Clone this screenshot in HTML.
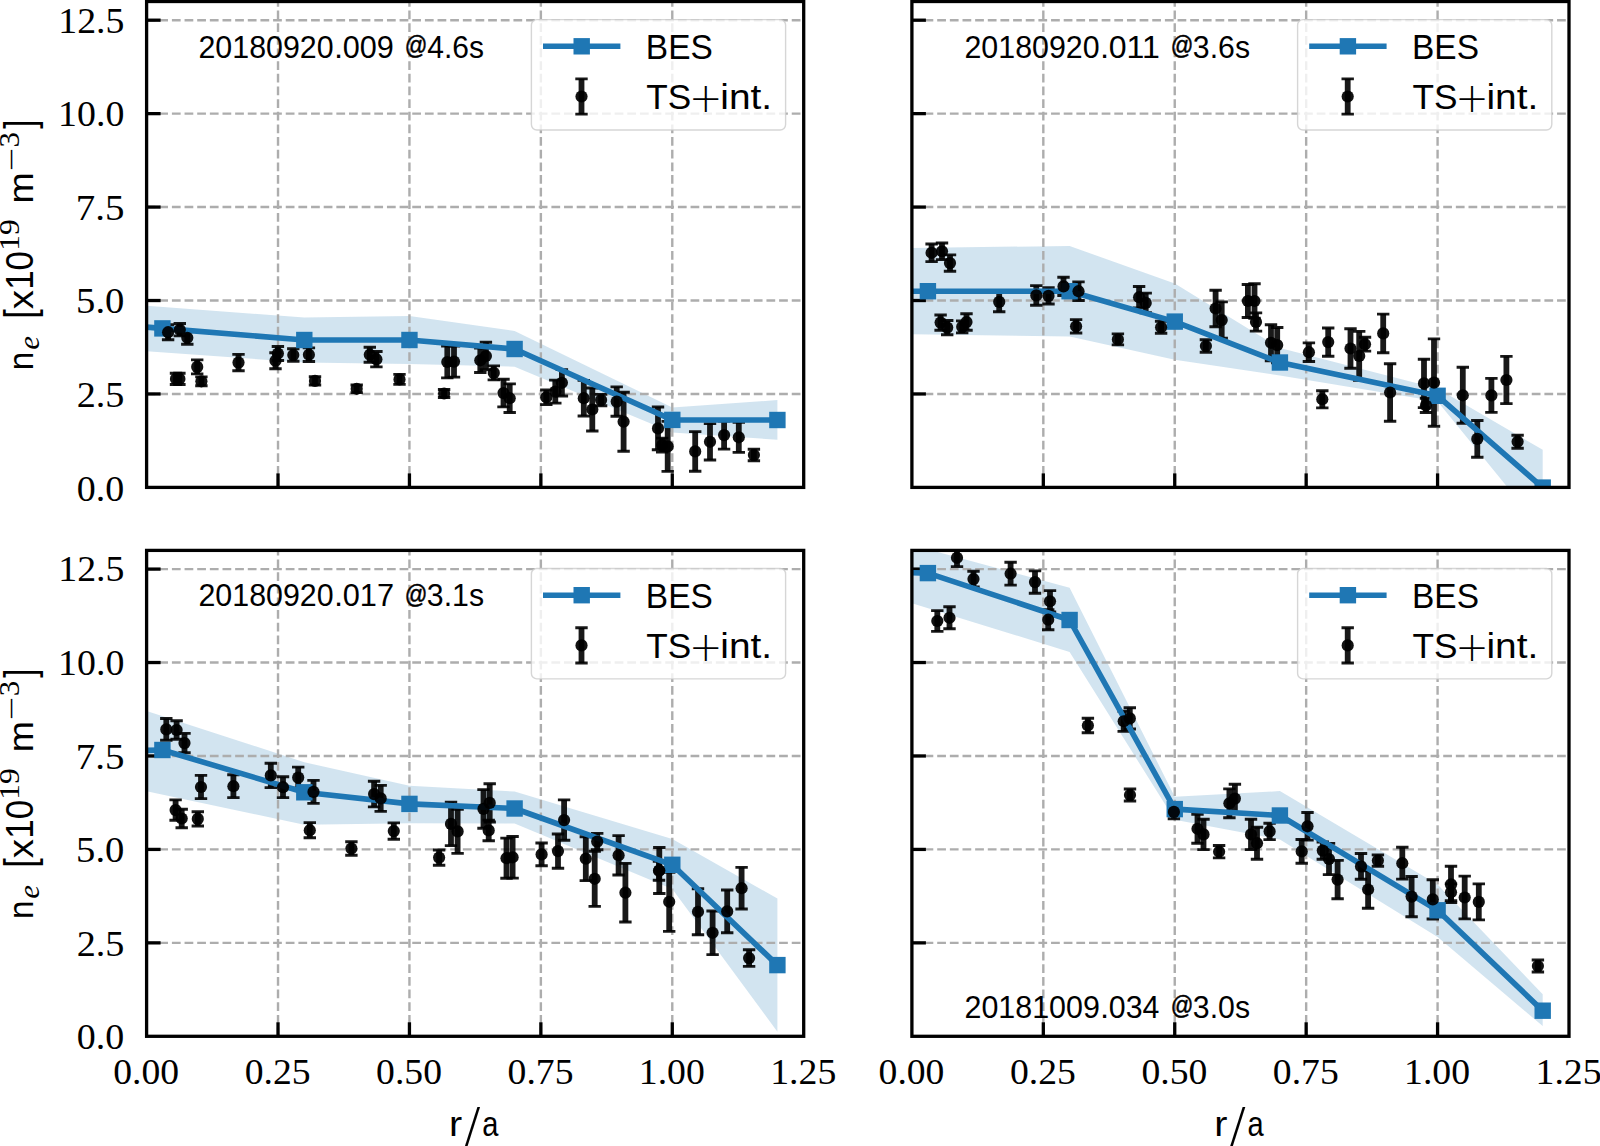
<!DOCTYPE html>
<html><head><meta charset="utf-8"><title>BES vs TS+int. density profiles</title>
<style>
html,body{margin:0;padding:0;background:#fff;overflow:hidden;}
svg{display:block;}
text{fill:#000;}
</style></head><body>
<svg width="1600" height="1146" viewBox="0 0 1600 1146">
<rect width="1600" height="1146" fill="#fff"/>

<g id="panel1">
<clipPath id="clip1"><rect x="146.6" y="1.5" width="657.1" height="485.9"/></clipPath>
<polygon clip-path="url(#clip1)" fill="#1f77b4" fill-opacity="0.2" points="146.6,305.7 304.3,317.5 409.45,316 514.6,331 672.3,407.5 777.4,400.1 777.4,439.7 672.3,432.4 514.6,366.7 409.45,363.9 304.3,362.5 146.6,351.3"/>
<g stroke="#adadad" stroke-width="2.4" stroke-dasharray="8.75 3.9" fill="none">
<path d="M278.02 487.4V1.5"/>
<path d="M409.44 487.4V1.5"/>
<path d="M540.86 487.4V1.5"/>
<path d="M672.28 487.4V1.5"/>
<path d="M146.6 393.96H803.7"/>
<path d="M146.6 300.52H803.7"/>
<path d="M146.6 207.07H803.7"/>
<path d="M146.6 113.63H803.7"/>
<path d="M146.6 20.19H803.7"/>
</g>
<g stroke="#000" stroke-width="3.3" fill="none">
<path d="M278.02 487.4v-14"/>
<path d="M409.44 487.4v-14"/>
<path d="M540.86 487.4v-14"/>
<path d="M672.28 487.4v-14"/>
<path d="M146.6 393.96h14"/>
<path d="M146.6 300.52h14"/>
<path d="M146.6 207.07h14"/>
<path d="M146.6 113.63h14"/>
<path d="M146.6 20.19h14"/>
</g>
<g clip-path="url(#clip1)">
<g stroke="#000" stroke-opacity="0.9" fill="none">
<path stroke-width="5.8" d="M168.1 324.7V339.7"/>
<path stroke-width="2.9" d="M161.9 324.7h12.4M161.9 339.7h12.4"/>
<path stroke-width="5.8" d="M179.8 323.5V335.9"/>
<path stroke-width="2.9" d="M173.6 323.5h12.4M173.6 335.9h12.4"/>
<path stroke-width="5.8" d="M187.3 331.4V344.2"/>
<path stroke-width="2.9" d="M181.1 331.4h12.4M181.1 344.2h12.4"/>
<path stroke-width="5.8" d="M176 373.3V384.5"/>
<path stroke-width="2.9" d="M169.8 373.3h12.4M169.8 384.5h12.4"/>
<path stroke-width="5.8" d="M179.4 373.3V384.5"/>
<path stroke-width="2.9" d="M173.2 373.3h12.4M173.2 384.5h12.4"/>
<path stroke-width="5.8" d="M197.2 359.9V373.9"/>
<path stroke-width="2.9" d="M191 359.9h12.4M191 373.9h12.4"/>
<path stroke-width="5.8" d="M201.4 376.9V385.7"/>
<path stroke-width="2.9" d="M195.2 376.9h12.4M195.2 385.7h12.4"/>
<path stroke-width="5.8" d="M238.5 354.4V370.8"/>
<path stroke-width="2.9" d="M232.3 354.4h12.4M232.3 370.8h12.4"/>
<path stroke-width="5.8" d="M277.9 346.5V360.5"/>
<path stroke-width="2.9" d="M271.7 346.5h12.4M271.7 360.5h12.4"/>
<path stroke-width="5.8" d="M275.5 352.7V368.7"/>
<path stroke-width="2.9" d="M269.3 352.7h12.4M269.3 368.7h12.4"/>
<path stroke-width="5.8" d="M293.3 348.7V361.3"/>
<path stroke-width="2.9" d="M287.1 348.7h12.4M287.1 361.3h12.4"/>
<path stroke-width="5.8" d="M308.9 347.9V361.5"/>
<path stroke-width="2.9" d="M302.7 347.9h12.4M302.7 361.5h12.4"/>
<path stroke-width="5.8" d="M315 376.8V385"/>
<path stroke-width="2.9" d="M308.8 376.8h12.4M308.8 385h12.4"/>
<path stroke-width="5.8" d="M356.7 385V392.6"/>
<path stroke-width="2.9" d="M350.5 385h12.4M350.5 392.6h12.4"/>
<path stroke-width="5.8" d="M369.8 347.2V362.2"/>
<path stroke-width="2.9" d="M363.6 347.2h12.4M363.6 362.2h12.4"/>
<path stroke-width="5.8" d="M376.4 351.5V366.9"/>
<path stroke-width="2.9" d="M370.2 351.5h12.4M370.2 366.9h12.4"/>
<path stroke-width="5.8" d="M399.5 374.4V384.4"/>
<path stroke-width="2.9" d="M393.3 374.4h12.4M393.3 384.4h12.4"/>
<path stroke-width="5.8" d="M444.1 389.5V397.5"/>
<path stroke-width="2.9" d="M437.9 389.5h12.4M437.9 397.5h12.4"/>
<path stroke-width="5.8" d="M447.3 346.1V377.9"/>
<path stroke-width="2.9" d="M441.1 346.1h12.4M441.1 377.9h12.4"/>
<path stroke-width="5.8" d="M454 346.1V377.1"/>
<path stroke-width="2.9" d="M447.8 346.1h12.4M447.8 377.1h12.4"/>
<path stroke-width="5.8" d="M480.3 348.1V372.5"/>
<path stroke-width="2.9" d="M474.1 348.1h12.4M474.1 372.5h12.4"/>
<path stroke-width="5.8" d="M485.9 342.3V369.7"/>
<path stroke-width="2.9" d="M479.7 342.3h12.4M479.7 369.7h12.4"/>
<path stroke-width="5.8" d="M493.8 365.9V379.9"/>
<path stroke-width="2.9" d="M487.6 365.9h12.4M487.6 379.9h12.4"/>
<path stroke-width="5.8" d="M503.5 379.3V406.9"/>
<path stroke-width="2.9" d="M497.3 379.3h12.4M497.3 406.9h12.4"/>
<path stroke-width="5.8" d="M509.7 383.9V412.5"/>
<path stroke-width="2.9" d="M503.5 383.9h12.4M503.5 412.5h12.4"/>
<path stroke-width="5.8" d="M546.3 390V404.6"/>
<path stroke-width="2.9" d="M540.1 390h12.4M540.1 404.6h12.4"/>
<path stroke-width="5.8" d="M555.3 380.1V403.1"/>
<path stroke-width="2.9" d="M549.1 380.1h12.4M549.1 403.1h12.4"/>
<path stroke-width="5.8" d="M561.9 369.6V396"/>
<path stroke-width="2.9" d="M555.7 369.6h12.4M555.7 396h12.4"/>
<path stroke-width="5.8" d="M583.8 380.4V416"/>
<path stroke-width="2.9" d="M577.6 380.4h12.4M577.6 416h12.4"/>
<path stroke-width="5.8" d="M592.3 388V431"/>
<path stroke-width="2.9" d="M586.1 388h12.4M586.1 431h12.4"/>
<path stroke-width="5.8" d="M601.1 394.4V405.8"/>
<path stroke-width="2.9" d="M594.9 394.4h12.4M594.9 405.8h12.4"/>
<path stroke-width="5.8" d="M616.7 386.9V416.3"/>
<path stroke-width="2.9" d="M610.5 386.9h12.4M610.5 416.3h12.4"/>
<path stroke-width="5.8" d="M623.6 392.2V451.2"/>
<path stroke-width="2.9" d="M617.4 392.2h12.4M617.4 451.2h12.4"/>
<path stroke-width="5.8" d="M658 407V449.8"/>
<path stroke-width="2.9" d="M651.8 407h12.4M651.8 449.8h12.4"/>
<path stroke-width="5.8" d="M662.2 438.1V452.1"/>
<path stroke-width="2.9" d="M656 438.1h12.4M656 452.1h12.4"/>
<path stroke-width="5.8" d="M667.7 421.4V471.4"/>
<path stroke-width="2.9" d="M661.5 421.4h12.4M661.5 471.4h12.4"/>
<path stroke-width="5.8" d="M695.2 431.6V471.2"/>
<path stroke-width="2.9" d="M689 431.6h12.4M689 471.2h12.4"/>
<path stroke-width="5.8" d="M710 423.6V460"/>
<path stroke-width="2.9" d="M703.8 423.6h12.4M703.8 460h12.4"/>
<path stroke-width="5.8" d="M724.1 421.1V449.1"/>
<path stroke-width="2.9" d="M717.9 421.1h12.4M717.9 449.1h12.4"/>
<path stroke-width="5.8" d="M738.8 422.2V452.4"/>
<path stroke-width="2.9" d="M732.6 422.2h12.4M732.6 452.4h12.4"/>
<path stroke-width="5.8" d="M753.9 449.2V460.8"/>
<path stroke-width="2.9" d="M747.7 449.2h12.4M747.7 460.8h12.4"/>
</g>
<polyline fill="none" stroke="#1f77b4" stroke-width="5.6" stroke-linejoin="round" points="146.6,327.1 162.4,328.4 304.3,340 409.45,340 514.6,349 672.3,419.9 777.4,420"/>
<rect x="154.2" y="320.2" width="16.4" height="16.4" fill="#1f77b4"/>
<rect x="296.1" y="331.8" width="16.4" height="16.4" fill="#1f77b4"/>
<rect x="401.25" y="331.8" width="16.4" height="16.4" fill="#1f77b4"/>
<rect x="506.4" y="340.8" width="16.4" height="16.4" fill="#1f77b4"/>
<rect x="664.1" y="411.7" width="16.4" height="16.4" fill="#1f77b4"/>
<rect x="769.2" y="411.8" width="16.4" height="16.4" fill="#1f77b4"/>
<circle cx="168.1" cy="332.2" r="6.1" fill="#000" fill-opacity="0.93"/>
<circle cx="179.8" cy="329.7" r="6.1" fill="#000" fill-opacity="0.93"/>
<circle cx="187.3" cy="337.8" r="6.1" fill="#000" fill-opacity="0.93"/>
<circle cx="176" cy="378.9" r="6.1" fill="#000" fill-opacity="0.93"/>
<circle cx="179.4" cy="378.9" r="6.1" fill="#000" fill-opacity="0.93"/>
<circle cx="197.2" cy="366.9" r="6.1" fill="#000" fill-opacity="0.93"/>
<circle cx="201.4" cy="381.3" r="6.1" fill="#000" fill-opacity="0.93"/>
<circle cx="238.5" cy="362.6" r="6.1" fill="#000" fill-opacity="0.93"/>
<circle cx="277.9" cy="353.5" r="6.1" fill="#000" fill-opacity="0.93"/>
<circle cx="275.5" cy="360.7" r="6.1" fill="#000" fill-opacity="0.93"/>
<circle cx="293.3" cy="355" r="6.1" fill="#000" fill-opacity="0.93"/>
<circle cx="308.9" cy="354.7" r="6.1" fill="#000" fill-opacity="0.93"/>
<circle cx="315" cy="380.9" r="6.1" fill="#000" fill-opacity="0.93"/>
<circle cx="356.7" cy="388.8" r="6.1" fill="#000" fill-opacity="0.93"/>
<circle cx="369.8" cy="354.7" r="6.1" fill="#000" fill-opacity="0.93"/>
<circle cx="376.4" cy="359.2" r="6.1" fill="#000" fill-opacity="0.93"/>
<circle cx="399.5" cy="379.4" r="6.1" fill="#000" fill-opacity="0.93"/>
<circle cx="444.1" cy="393.5" r="6.1" fill="#000" fill-opacity="0.93"/>
<circle cx="447.3" cy="362" r="6.1" fill="#000" fill-opacity="0.93"/>
<circle cx="454" cy="361.6" r="6.1" fill="#000" fill-opacity="0.93"/>
<circle cx="480.3" cy="360.3" r="6.1" fill="#000" fill-opacity="0.93"/>
<circle cx="485.9" cy="356" r="6.1" fill="#000" fill-opacity="0.93"/>
<circle cx="493.8" cy="372.9" r="6.1" fill="#000" fill-opacity="0.93"/>
<circle cx="503.5" cy="393.1" r="6.1" fill="#000" fill-opacity="0.93"/>
<circle cx="509.7" cy="398.2" r="6.1" fill="#000" fill-opacity="0.93"/>
<circle cx="546.3" cy="397.3" r="6.1" fill="#000" fill-opacity="0.93"/>
<circle cx="555.3" cy="391.6" r="6.1" fill="#000" fill-opacity="0.93"/>
<circle cx="561.9" cy="382.8" r="6.1" fill="#000" fill-opacity="0.93"/>
<circle cx="583.8" cy="398.2" r="6.1" fill="#000" fill-opacity="0.93"/>
<circle cx="592.3" cy="409.5" r="6.1" fill="#000" fill-opacity="0.93"/>
<circle cx="601.1" cy="400.1" r="6.1" fill="#000" fill-opacity="0.93"/>
<circle cx="616.7" cy="401.6" r="6.1" fill="#000" fill-opacity="0.93"/>
<circle cx="623.6" cy="421.7" r="6.1" fill="#000" fill-opacity="0.93"/>
<circle cx="658" cy="428.4" r="6.1" fill="#000" fill-opacity="0.93"/>
<circle cx="662.2" cy="445.1" r="6.1" fill="#000" fill-opacity="0.93"/>
<circle cx="667.7" cy="446.4" r="6.1" fill="#000" fill-opacity="0.93"/>
<circle cx="695.2" cy="451.4" r="6.1" fill="#000" fill-opacity="0.93"/>
<circle cx="710" cy="441.8" r="6.1" fill="#000" fill-opacity="0.93"/>
<circle cx="724.1" cy="435.1" r="6.1" fill="#000" fill-opacity="0.93"/>
<circle cx="738.8" cy="437.3" r="6.1" fill="#000" fill-opacity="0.93"/>
<circle cx="753.9" cy="455" r="6.1" fill="#000" fill-opacity="0.93"/>
</g>
<g stroke="#000" stroke-width="3.3" fill="none">
<rect x="146.6" y="1.5" width="657.1" height="485.9" stroke-linejoin="miter"/>
</g>
<text x="76.88" y="500.8" font-family='"Liberation Serif", serif' font-size="36.7" textLength="47.45" lengthAdjust="spacingAndGlyphs">0.0</text>
<text x="76.68" y="407.36" font-family='"Liberation Serif", serif' font-size="36.7" textLength="47.75" lengthAdjust="spacingAndGlyphs">2.5</text>
<text x="76.08" y="313.02" font-family='"Liberation Serif", serif' font-size="36.7" textLength="48.27" lengthAdjust="spacingAndGlyphs">5.0</text>
<text x="75.77" y="219.57" font-family='"Liberation Serif", serif' font-size="36.7" textLength="48.69" lengthAdjust="spacingAndGlyphs">7.5</text>
<text x="58.09" y="126.13" font-family='"Liberation Serif", serif' font-size="36.7" textLength="66.23" lengthAdjust="spacingAndGlyphs">10.0</text>
<text x="58.29" y="32.69" font-family='"Liberation Serif", serif' font-size="36.7" textLength="66.12" lengthAdjust="spacingAndGlyphs">12.5</text>
<g transform="translate(33.1 367.9) rotate(-90)">
<text x="-2.26" y="0" font-family='"Liberation Sans", sans-serif' font-size="35.4" textLength="18.54" lengthAdjust="spacingAndGlyphs">n</text>
<text x="18.07" y="6.3" font-family='"Liberation Serif", serif' font-size="30" font-style="italic" textLength="13.83" lengthAdjust="spacingAndGlyphs">e</text>
<text x="49.39" y="1.2" font-family='"Liberation Sans", sans-serif' font-size="43" textLength="9.16" lengthAdjust="spacingAndGlyphs">[</text>
<text x="58.62" y="0" font-family='"Liberation Sans", sans-serif' font-size="35.4" textLength="19.26" lengthAdjust="spacingAndGlyphs">x</text>
<text x="78.08" y="0" font-family='"Liberation Sans", sans-serif' font-size="39.7" textLength="38.84" lengthAdjust="spacingAndGlyphs">10</text>
<text x="117.14" y="-14.5" font-family='"Liberation Serif", serif' font-size="28.5" textLength="31.52" lengthAdjust="spacingAndGlyphs">19</text>
<text x="164.47" y="0" font-family='"Liberation Sans", sans-serif' font-size="35.4" textLength="31.16" lengthAdjust="spacingAndGlyphs">m</text>
<text x="196.34" y="-11.9" font-family='"Liberation Serif", serif' font-size="28.5" textLength="23.33" lengthAdjust="spacingAndGlyphs">−</text>
<text x="220.44" y="-14.5" font-family='"Liberation Serif", serif' font-size="28.5" textLength="15.39" lengthAdjust="spacingAndGlyphs">3</text>
<text x="239.16" y="1.2" font-family='"Liberation Sans", sans-serif' font-size="43" textLength="9.02" lengthAdjust="spacingAndGlyphs">]</text>
</g>
<text x="198.48" y="57.5" font-family='"Liberation Sans", sans-serif' font-size="31.25" textLength="135.16" lengthAdjust="spacingAndGlyphs">20180920</text>
<text x="334.05" y="57.5" font-family='"Liberation Sans", sans-serif' font-size="31.25" textLength="9.11" lengthAdjust="spacingAndGlyphs">.</text>
<text x="342.77" y="57.5" font-family='"Liberation Sans", sans-serif' font-size="31.25" textLength="51.11" lengthAdjust="spacingAndGlyphs">009</text>
<text x="404.77" y="53.9" font-family='"Liberation Sans", sans-serif' font-size="26.5" textLength="22.62" lengthAdjust="spacingAndGlyphs" stroke="#000" stroke-width="0.5">@</text>
<text x="427.32" y="57.5" font-family='"Liberation Sans", sans-serif' font-size="31.25" textLength="56.73" lengthAdjust="spacingAndGlyphs">4.6s</text>
<rect x="531.4" y="19.6" width="254.2" height="110.4" rx="5.5" ry="5.5" fill="#fff" fill-opacity="0.8" stroke="#ccc" stroke-opacity="0.8" stroke-width="1.4"/>
<path d="M543 46.3h77.4" stroke="#1f77b4" stroke-width="5.6" fill="none"/>
<rect x="573.5" y="38.1" width="16.4" height="16.4" fill="#1f77b4"/>
<g stroke="#000" stroke-opacity="0.9" fill="none"><path stroke-width="5.8" d="M581.5 78.9V114.1"/><path stroke-width="2.9" d="M575.3 78.9h12.4M575.3 114.1h12.4"/></g>
<circle cx="581.5" cy="96.5" r="6.1" fill="#000" fill-opacity="0.93"/>
<text x="645.84" y="58.65" font-family='"Liberation Sans", sans-serif' font-size="35.75" textLength="66.96" lengthAdjust="spacingAndGlyphs">BES</text>
<text x="646.31" y="108.9" font-family='"Liberation Sans", sans-serif' font-size="35.75" textLength="44.98" lengthAdjust="spacingAndGlyphs">TS</text>
<text x="689.1" y="112.3" font-family='"DejaVu Sans", sans-serif' font-size="40" font-weight="200" textLength="33.5" lengthAdjust="spacingAndGlyphs">+</text>
<text x="720.27" y="108.9" font-family='"Liberation Sans", sans-serif' font-size="35.75" textLength="51.83" lengthAdjust="spacingAndGlyphs">int.</text>
</g>
<g id="panel2">
<clipPath id="clip2"><rect x="911.9" y="1.5" width="657.1" height="485.9"/></clipPath>
<polygon clip-path="url(#clip2)" fill="#1f77b4" fill-opacity="0.2" points="911.9,247.9 1069.6,246 1174.75,283.5 1279.9,348 1437.6,388.6 1542.7,449.8 1542.7,530.5 1437.6,401.4 1279.9,375.5 1174.75,359.7 1069.6,336.6 911.9,334.2"/>
<g stroke="#adadad" stroke-width="2.4" stroke-dasharray="8.75 3.9" fill="none">
<path d="M1043.32 487.4V1.5"/>
<path d="M1174.74 487.4V1.5"/>
<path d="M1306.16 487.4V1.5"/>
<path d="M1437.58 487.4V1.5"/>
<path d="M911.9 393.96H1569"/>
<path d="M911.9 300.52H1569"/>
<path d="M911.9 207.07H1569"/>
<path d="M911.9 113.63H1569"/>
<path d="M911.9 20.19H1569"/>
</g>
<g stroke="#000" stroke-width="3.3" fill="none">
<path d="M1043.32 487.4v-14"/>
<path d="M1174.74 487.4v-14"/>
<path d="M1306.16 487.4v-14"/>
<path d="M1437.58 487.4v-14"/>
<path d="M911.9 393.96h14"/>
<path d="M911.9 300.52h14"/>
<path d="M911.9 207.07h14"/>
<path d="M911.9 113.63h14"/>
<path d="M911.9 20.19h14"/>
</g>
<g clip-path="url(#clip2)">
<g stroke="#000" stroke-opacity="0.9" fill="none">
<path stroke-width="5.8" d="M931.6 244V261.6"/>
<path stroke-width="2.9" d="M925.4 244h12.4M925.4 261.6h12.4"/>
<path stroke-width="5.8" d="M942 243V259.6"/>
<path stroke-width="2.9" d="M935.8 243h12.4M935.8 259.6h12.4"/>
<path stroke-width="5.8" d="M950 254.9V271.3"/>
<path stroke-width="2.9" d="M943.8 254.9h12.4M943.8 271.3h12.4"/>
<path stroke-width="5.8" d="M940.6 315V330.2"/>
<path stroke-width="2.9" d="M934.4 315h12.4M934.4 330.2h12.4"/>
<path stroke-width="5.8" d="M947.2 320.5V334.7"/>
<path stroke-width="2.9" d="M941 320.5h12.4M941 334.7h12.4"/>
<path stroke-width="5.8" d="M962.2 320.9V332.9"/>
<path stroke-width="2.9" d="M956 320.9h12.4M956 332.9h12.4"/>
<path stroke-width="5.8" d="M966.5 313.7V330.3"/>
<path stroke-width="2.9" d="M960.3 313.7h12.4M960.3 330.3h12.4"/>
<path stroke-width="5.8" d="M999.2 292.1V311.7"/>
<path stroke-width="2.9" d="M993 292.1h12.4M993 311.7h12.4"/>
<path stroke-width="5.8" d="M1036.3 285.6V305.2"/>
<path stroke-width="2.9" d="M1030.1 285.6h12.4M1030.1 305.2h12.4"/>
<path stroke-width="5.8" d="M1048.5 287.8V304"/>
<path stroke-width="2.9" d="M1042.3 287.8h12.4M1042.3 304h12.4"/>
<path stroke-width="5.8" d="M1063.5 277.3V295.5"/>
<path stroke-width="2.9" d="M1057.3 277.3h12.4M1057.3 295.5h12.4"/>
<path stroke-width="5.8" d="M1078.5 281.9V300.5"/>
<path stroke-width="2.9" d="M1072.3 281.9h12.4M1072.3 300.5h12.4"/>
<path stroke-width="5.8" d="M1076.1 319.6V333"/>
<path stroke-width="2.9" d="M1069.9 319.6h12.4M1069.9 333h12.4"/>
<path stroke-width="5.8" d="M1117.9 333.9V344.9"/>
<path stroke-width="2.9" d="M1111.7 333.9h12.4M1111.7 344.9h12.4"/>
<path stroke-width="5.8" d="M1139.1 286.5V307.9"/>
<path stroke-width="2.9" d="M1132.9 286.5h12.4M1132.9 307.9h12.4"/>
<path stroke-width="5.8" d="M1145.7 293.1V312.7"/>
<path stroke-width="2.9" d="M1139.5 293.1h12.4M1139.5 312.7h12.4"/>
<path stroke-width="5.8" d="M1161.1 321.3V333.3"/>
<path stroke-width="2.9" d="M1154.9 321.3h12.4M1154.9 333.3h12.4"/>
<path stroke-width="5.8" d="M1205.9 339.8V352.2"/>
<path stroke-width="2.9" d="M1199.7 339.8h12.4M1199.7 352.2h12.4"/>
<path stroke-width="5.8" d="M1215.6 290.3V326.7"/>
<path stroke-width="2.9" d="M1209.4 290.3h12.4M1209.4 326.7h12.4"/>
<path stroke-width="5.8" d="M1221.7 301.9V338.3"/>
<path stroke-width="2.9" d="M1215.5 301.9h12.4M1215.5 338.3h12.4"/>
<path stroke-width="5.8" d="M1247.9 284.5V317.5"/>
<path stroke-width="2.9" d="M1241.7 284.5h12.4M1241.7 317.5h12.4"/>
<path stroke-width="5.8" d="M1254.5 283.7V318.3"/>
<path stroke-width="2.9" d="M1248.3 283.7h12.4M1248.3 318.3h12.4"/>
<path stroke-width="5.8" d="M1256 312.9V331.1"/>
<path stroke-width="2.9" d="M1249.8 312.9h12.4M1249.8 331.1h12.4"/>
<path stroke-width="5.8" d="M1271 324.8V360.8"/>
<path stroke-width="2.9" d="M1264.8 324.8h12.4M1264.8 360.8h12.4"/>
<path stroke-width="5.8" d="M1277.2 327.5V362.7"/>
<path stroke-width="2.9" d="M1271 327.5h12.4M1271 362.7h12.4"/>
<path stroke-width="5.8" d="M1308.9 342.9V361.5"/>
<path stroke-width="2.9" d="M1302.7 342.9h12.4M1302.7 361.5h12.4"/>
<path stroke-width="5.8" d="M1328.2 328V356.2"/>
<path stroke-width="2.9" d="M1322 328h12.4M1322 356.2h12.4"/>
<path stroke-width="5.8" d="M1322.3 390.7V407.9"/>
<path stroke-width="2.9" d="M1316.1 390.7h12.4M1316.1 407.9h12.4"/>
<path stroke-width="5.8" d="M1350.5 328.7V368.3"/>
<path stroke-width="2.9" d="M1344.3 328.7h12.4M1344.3 368.3h12.4"/>
<path stroke-width="5.8" d="M1359.2 331.4V380.4"/>
<path stroke-width="2.9" d="M1353 331.4h12.4M1353 380.4h12.4"/>
<path stroke-width="5.8" d="M1365 337.3V351.1"/>
<path stroke-width="2.9" d="M1358.8 337.3h12.4M1358.8 351.1h12.4"/>
<path stroke-width="5.8" d="M1383.2 314.1V352.7"/>
<path stroke-width="2.9" d="M1377 314.1h12.4M1377 352.7h12.4"/>
<path stroke-width="5.8" d="M1390.1 363.7V421.3"/>
<path stroke-width="2.9" d="M1383.9 363.7h12.4M1383.9 421.3h12.4"/>
<path stroke-width="5.8" d="M1424 359.2V407.6"/>
<path stroke-width="2.9" d="M1417.8 359.2h12.4M1417.8 407.6h12.4"/>
<path stroke-width="5.8" d="M1426 398.3V412.5"/>
<path stroke-width="2.9" d="M1419.8 398.3h12.4M1419.8 412.5h12.4"/>
<path stroke-width="5.8" d="M1434 338.9V426.3"/>
<path stroke-width="2.9" d="M1427.8 338.9h12.4M1427.8 426.3h12.4"/>
<path stroke-width="5.8" d="M1462.8 367.3V423.3"/>
<path stroke-width="2.9" d="M1456.6 367.3h12.4M1456.6 423.3h12.4"/>
<path stroke-width="5.8" d="M1477.3 420.5V457.3"/>
<path stroke-width="2.9" d="M1471.1 420.5h12.4M1471.1 457.3h12.4"/>
<path stroke-width="5.8" d="M1491.4 378.4V412.4"/>
<path stroke-width="2.9" d="M1485.2 378.4h12.4M1485.2 412.4h12.4"/>
<path stroke-width="5.8" d="M1506.4 356.4V403.6"/>
<path stroke-width="2.9" d="M1500.2 356.4h12.4M1500.2 403.6h12.4"/>
<path stroke-width="5.8" d="M1517.6 435.2V448.2"/>
<path stroke-width="2.9" d="M1511.4 435.2h12.4M1511.4 448.2h12.4"/>
</g>
<polyline fill="none" stroke="#1f77b4" stroke-width="5.6" stroke-linejoin="round" points="911.9,291.2 927.9,291.2 1069.6,291.2 1174.75,321.6 1279.9,362.5 1437.6,395.8 1542.7,487.6"/>
<rect x="919.7" y="283" width="16.4" height="16.4" fill="#1f77b4"/>
<rect x="1061.4" y="283" width="16.4" height="16.4" fill="#1f77b4"/>
<rect x="1166.55" y="313.4" width="16.4" height="16.4" fill="#1f77b4"/>
<rect x="1271.7" y="354.3" width="16.4" height="16.4" fill="#1f77b4"/>
<rect x="1429.4" y="387.6" width="16.4" height="16.4" fill="#1f77b4"/>
<rect x="1534.5" y="479.4" width="16.4" height="16.4" fill="#1f77b4"/>
<circle cx="931.6" cy="252.8" r="6.1" fill="#000" fill-opacity="0.93"/>
<circle cx="942" cy="251.3" r="6.1" fill="#000" fill-opacity="0.93"/>
<circle cx="950" cy="263.1" r="6.1" fill="#000" fill-opacity="0.93"/>
<circle cx="940.6" cy="322.6" r="6.1" fill="#000" fill-opacity="0.93"/>
<circle cx="947.2" cy="327.6" r="6.1" fill="#000" fill-opacity="0.93"/>
<circle cx="962.2" cy="326.9" r="6.1" fill="#000" fill-opacity="0.93"/>
<circle cx="966.5" cy="322" r="6.1" fill="#000" fill-opacity="0.93"/>
<circle cx="999.2" cy="301.9" r="6.1" fill="#000" fill-opacity="0.93"/>
<circle cx="1036.3" cy="295.4" r="6.1" fill="#000" fill-opacity="0.93"/>
<circle cx="1048.5" cy="295.9" r="6.1" fill="#000" fill-opacity="0.93"/>
<circle cx="1063.5" cy="286.4" r="6.1" fill="#000" fill-opacity="0.93"/>
<circle cx="1078.5" cy="291.2" r="6.1" fill="#000" fill-opacity="0.93"/>
<circle cx="1076.1" cy="326.3" r="6.1" fill="#000" fill-opacity="0.93"/>
<circle cx="1117.9" cy="339.4" r="6.1" fill="#000" fill-opacity="0.93"/>
<circle cx="1139.1" cy="297.2" r="6.1" fill="#000" fill-opacity="0.93"/>
<circle cx="1145.7" cy="302.9" r="6.1" fill="#000" fill-opacity="0.93"/>
<circle cx="1161.1" cy="327.3" r="6.1" fill="#000" fill-opacity="0.93"/>
<circle cx="1205.9" cy="346" r="6.1" fill="#000" fill-opacity="0.93"/>
<circle cx="1215.6" cy="308.5" r="6.1" fill="#000" fill-opacity="0.93"/>
<circle cx="1221.7" cy="320.1" r="6.1" fill="#000" fill-opacity="0.93"/>
<circle cx="1247.9" cy="301" r="6.1" fill="#000" fill-opacity="0.93"/>
<circle cx="1254.5" cy="301" r="6.1" fill="#000" fill-opacity="0.93"/>
<circle cx="1256" cy="322" r="6.1" fill="#000" fill-opacity="0.93"/>
<circle cx="1271" cy="342.8" r="6.1" fill="#000" fill-opacity="0.93"/>
<circle cx="1277.2" cy="345.1" r="6.1" fill="#000" fill-opacity="0.93"/>
<circle cx="1308.9" cy="352.2" r="6.1" fill="#000" fill-opacity="0.93"/>
<circle cx="1328.2" cy="342.1" r="6.1" fill="#000" fill-opacity="0.93"/>
<circle cx="1322.3" cy="399.3" r="6.1" fill="#000" fill-opacity="0.93"/>
<circle cx="1350.5" cy="348.5" r="6.1" fill="#000" fill-opacity="0.93"/>
<circle cx="1359.2" cy="355.9" r="6.1" fill="#000" fill-opacity="0.93"/>
<circle cx="1365" cy="344.2" r="6.1" fill="#000" fill-opacity="0.93"/>
<circle cx="1383.2" cy="333.4" r="6.1" fill="#000" fill-opacity="0.93"/>
<circle cx="1390.1" cy="392.5" r="6.1" fill="#000" fill-opacity="0.93"/>
<circle cx="1424" cy="383.4" r="6.1" fill="#000" fill-opacity="0.93"/>
<circle cx="1426" cy="405.4" r="6.1" fill="#000" fill-opacity="0.93"/>
<circle cx="1434" cy="382.6" r="6.1" fill="#000" fill-opacity="0.93"/>
<circle cx="1462.8" cy="395.3" r="6.1" fill="#000" fill-opacity="0.93"/>
<circle cx="1477.3" cy="438.9" r="6.1" fill="#000" fill-opacity="0.93"/>
<circle cx="1491.4" cy="395.4" r="6.1" fill="#000" fill-opacity="0.93"/>
<circle cx="1506.4" cy="380" r="6.1" fill="#000" fill-opacity="0.93"/>
<circle cx="1517.6" cy="441.7" r="6.1" fill="#000" fill-opacity="0.93"/>
</g>
<g stroke="#000" stroke-width="3.3" fill="none">
<rect x="911.9" y="1.5" width="657.1" height="485.9" stroke-linejoin="miter"/>
</g>
<text x="964.48" y="57.5" font-family='"Liberation Sans", sans-serif' font-size="31.25" textLength="135.16" lengthAdjust="spacingAndGlyphs">20180920</text>
<text x="1100.05" y="57.5" font-family='"Liberation Sans", sans-serif' font-size="31.25" textLength="9.11" lengthAdjust="spacingAndGlyphs">.</text>
<text x="1108.77" y="57.5" font-family='"Liberation Sans", sans-serif' font-size="31.25" textLength="51.15" lengthAdjust="spacingAndGlyphs">011</text>
<text x="1170.77" y="53.9" font-family='"Liberation Sans", sans-serif' font-size="26.5" textLength="22.62" lengthAdjust="spacingAndGlyphs" stroke="#000" stroke-width="0.5">@</text>
<text x="1192.86" y="57.5" font-family='"Liberation Sans", sans-serif' font-size="31.25" textLength="57.2" lengthAdjust="spacingAndGlyphs">3.6s</text>
<rect x="1297.6" y="19.6" width="254.2" height="110.4" rx="5.5" ry="5.5" fill="#fff" fill-opacity="0.8" stroke="#ccc" stroke-opacity="0.8" stroke-width="1.4"/>
<path d="M1309.2 46.3h77.4" stroke="#1f77b4" stroke-width="5.6" fill="none"/>
<rect x="1339.7" y="38.1" width="16.4" height="16.4" fill="#1f77b4"/>
<g stroke="#000" stroke-opacity="0.9" fill="none"><path stroke-width="5.8" d="M1347.7 78.9V114.1"/><path stroke-width="2.9" d="M1341.5 78.9h12.4M1341.5 114.1h12.4"/></g>
<circle cx="1347.7" cy="96.5" r="6.1" fill="#000" fill-opacity="0.93"/>
<text x="1412.04" y="58.65" font-family='"Liberation Sans", sans-serif' font-size="35.75" textLength="66.96" lengthAdjust="spacingAndGlyphs">BES</text>
<text x="1412.51" y="108.9" font-family='"Liberation Sans", sans-serif' font-size="35.75" textLength="44.98" lengthAdjust="spacingAndGlyphs">TS</text>
<text x="1455.3" y="112.3" font-family='"DejaVu Sans", sans-serif' font-size="40" font-weight="200" textLength="33.5" lengthAdjust="spacingAndGlyphs">+</text>
<text x="1486.47" y="108.9" font-family='"Liberation Sans", sans-serif' font-size="35.75" textLength="51.83" lengthAdjust="spacingAndGlyphs">int.</text>
</g>
<g id="panel3">
<clipPath id="clip3"><rect x="146.6" y="550.4" width="657.1" height="485.9"/></clipPath>
<polygon clip-path="url(#clip3)" fill="#1f77b4" fill-opacity="0.2" points="146.6,711 304.3,762.2 409.45,785.7 514.6,791.6 672.3,839 777.4,898.5 777.4,1031.7 672.3,889 514.6,823.5 409.45,823.2 304.3,824.7 146.6,791.3"/>
<g stroke="#adadad" stroke-width="2.4" stroke-dasharray="8.75 3.9" fill="none">
<path d="M278.02 1036.3V550.4"/>
<path d="M409.44 1036.3V550.4"/>
<path d="M540.86 1036.3V550.4"/>
<path d="M672.28 1036.3V550.4"/>
<path d="M146.6 942.86H803.7"/>
<path d="M146.6 849.42H803.7"/>
<path d="M146.6 755.97H803.7"/>
<path d="M146.6 662.53H803.7"/>
<path d="M146.6 569.09H803.7"/>
</g>
<g stroke="#000" stroke-width="3.3" fill="none">
<path d="M278.02 1036.3v-14"/>
<path d="M409.44 1036.3v-14"/>
<path d="M540.86 1036.3v-14"/>
<path d="M672.28 1036.3v-14"/>
<path d="M146.6 942.86h14"/>
<path d="M146.6 849.42h14"/>
<path d="M146.6 755.97h14"/>
<path d="M146.6 662.53h14"/>
<path d="M146.6 569.09h14"/>
</g>
<g clip-path="url(#clip3)">
<g stroke="#000" stroke-opacity="0.9" fill="none">
<path stroke-width="5.8" d="M166.3 718.5V740.3"/>
<path stroke-width="2.9" d="M160.1 718.5h12.4M160.1 740.3h12.4"/>
<path stroke-width="5.8" d="M176.6 720.7V739.3"/>
<path stroke-width="2.9" d="M170.4 720.7h12.4M170.4 739.3h12.4"/>
<path stroke-width="5.8" d="M184.5 733.4V752.8"/>
<path stroke-width="2.9" d="M178.3 733.4h12.4M178.3 752.8h12.4"/>
<path stroke-width="5.8" d="M201 775.4V798.6"/>
<path stroke-width="2.9" d="M194.8 775.4h12.4M194.8 798.6h12.4"/>
<path stroke-width="5.8" d="M175.6 799.9V820.3"/>
<path stroke-width="2.9" d="M169.4 799.9h12.4M169.4 820.3h12.4"/>
<path stroke-width="5.8" d="M181.7 809.3V827.7"/>
<path stroke-width="2.9" d="M175.5 809.3h12.4M175.5 827.7h12.4"/>
<path stroke-width="5.8" d="M197.8 811.8V826"/>
<path stroke-width="2.9" d="M191.6 811.8h12.4M191.6 826h12.4"/>
<path stroke-width="5.8" d="M233.4 774.8V797.6"/>
<path stroke-width="2.9" d="M227.2 774.8h12.4M227.2 797.6h12.4"/>
<path stroke-width="5.8" d="M270.8 763.2V787.6"/>
<path stroke-width="2.9" d="M264.6 763.2h12.4M264.6 787.6h12.4"/>
<path stroke-width="5.8" d="M283 776.8V797.6"/>
<path stroke-width="2.9" d="M276.8 776.8h12.4M276.8 797.6h12.4"/>
<path stroke-width="5.8" d="M298.2 767.1V788.1"/>
<path stroke-width="2.9" d="M292 767.1h12.4M292 788.1h12.4"/>
<path stroke-width="5.8" d="M313.5 780.4V803.4"/>
<path stroke-width="2.9" d="M307.3 780.4h12.4M307.3 803.4h12.4"/>
<path stroke-width="5.8" d="M309.8 822.6V837.8"/>
<path stroke-width="2.9" d="M303.6 822.6h12.4M303.6 837.8h12.4"/>
<path stroke-width="5.8" d="M351.4 841.7V855.3"/>
<path stroke-width="2.9" d="M345.2 841.7h12.4M345.2 855.3h12.4"/>
<path stroke-width="5.8" d="M374.1 781.3V806.9"/>
<path stroke-width="2.9" d="M367.9 781.3h12.4M367.9 806.9h12.4"/>
<path stroke-width="5.8" d="M380.7 785.4V811.4"/>
<path stroke-width="2.9" d="M374.5 785.4h12.4M374.5 811.4h12.4"/>
<path stroke-width="5.8" d="M393.8 822.9V839.3"/>
<path stroke-width="2.9" d="M387.6 822.9h12.4M387.6 839.3h12.4"/>
<path stroke-width="5.8" d="M439.1 850V865.2"/>
<path stroke-width="2.9" d="M432.9 850h12.4M432.9 865.2h12.4"/>
<path stroke-width="5.8" d="M451 802.2V845.6"/>
<path stroke-width="2.9" d="M444.8 802.2h12.4M444.8 845.6h12.4"/>
<path stroke-width="5.8" d="M457.6 809.4V853.4"/>
<path stroke-width="2.9" d="M451.4 809.4h12.4M451.4 853.4h12.4"/>
<path stroke-width="5.8" d="M483.5 789.6V828.2"/>
<path stroke-width="2.9" d="M477.3 789.6h12.4M477.3 828.2h12.4"/>
<path stroke-width="5.8" d="M489.7 783.8V822"/>
<path stroke-width="2.9" d="M483.5 783.8h12.4M483.5 822h12.4"/>
<path stroke-width="5.8" d="M488.7 820.1V840.7"/>
<path stroke-width="2.9" d="M482.5 820.1h12.4M482.5 840.7h12.4"/>
<path stroke-width="5.8" d="M506.5 838.1V878.3"/>
<path stroke-width="2.9" d="M500.3 838.1h12.4M500.3 878.3h12.4"/>
<path stroke-width="5.8" d="M512.6 836.5V878.1"/>
<path stroke-width="2.9" d="M506.4 836.5h12.4M506.4 878.1h12.4"/>
<path stroke-width="5.8" d="M541.6 843V865.8"/>
<path stroke-width="2.9" d="M535.4 843h12.4M535.4 865.8h12.4"/>
<path stroke-width="5.8" d="M558 834V868.2"/>
<path stroke-width="2.9" d="M551.8 834h12.4M551.8 868.2h12.4"/>
<path stroke-width="5.8" d="M564.1 799.9V840.3"/>
<path stroke-width="2.9" d="M557.9 799.9h12.4M557.9 840.3h12.4"/>
<path stroke-width="5.8" d="M585.8 836.8V880.6"/>
<path stroke-width="2.9" d="M579.6 836.8h12.4M579.6 880.6h12.4"/>
<path stroke-width="5.8" d="M594.7 851.2V906.4"/>
<path stroke-width="2.9" d="M588.5 851.2h12.4M588.5 906.4h12.4"/>
<path stroke-width="5.8" d="M597.2 833.4V849.8"/>
<path stroke-width="2.9" d="M591 833.4h12.4M591 849.8h12.4"/>
<path stroke-width="5.8" d="M618.6 835.6V875"/>
<path stroke-width="2.9" d="M612.4 835.6h12.4M612.4 875h12.4"/>
<path stroke-width="5.8" d="M625.4 863.4V922"/>
<path stroke-width="2.9" d="M619.2 863.4h12.4M619.2 922h12.4"/>
<path stroke-width="5.8" d="M659.3 847.5V893.5"/>
<path stroke-width="2.9" d="M653.1 847.5h12.4M653.1 893.5h12.4"/>
<path stroke-width="5.8" d="M659 861.2V880.2"/>
<path stroke-width="2.9" d="M652.8 861.2h12.4M652.8 880.2h12.4"/>
<path stroke-width="5.8" d="M669.2 872.2V931.4"/>
<path stroke-width="2.9" d="M663 872.2h12.4M663 931.4h12.4"/>
<path stroke-width="5.8" d="M698 888.8V934.8"/>
<path stroke-width="2.9" d="M691.8 888.8h12.4M691.8 934.8h12.4"/>
<path stroke-width="5.8" d="M712.6 911V954.6"/>
<path stroke-width="2.9" d="M706.4 911h12.4M706.4 954.6h12.4"/>
<path stroke-width="5.8" d="M727.2 890V932.8"/>
<path stroke-width="2.9" d="M721 890h12.4M721 932.8h12.4"/>
<path stroke-width="5.8" d="M741.6 867.4V909"/>
<path stroke-width="2.9" d="M735.4 867.4h12.4M735.4 909h12.4"/>
<path stroke-width="5.8" d="M749.1 949.8V966.4"/>
<path stroke-width="2.9" d="M742.9 949.8h12.4M742.9 966.4h12.4"/>
</g>
<polyline fill="none" stroke="#1f77b4" stroke-width="5.6" stroke-linejoin="round" points="146.6,750.4 162.4,750 304.3,792.3 409.45,803.9 514.6,808.5 672.3,864.8 777.4,965.1"/>
<rect x="154.2" y="741.8" width="16.4" height="16.4" fill="#1f77b4"/>
<rect x="296.1" y="784.1" width="16.4" height="16.4" fill="#1f77b4"/>
<rect x="401.25" y="795.7" width="16.4" height="16.4" fill="#1f77b4"/>
<rect x="506.4" y="800.3" width="16.4" height="16.4" fill="#1f77b4"/>
<rect x="664.1" y="856.6" width="16.4" height="16.4" fill="#1f77b4"/>
<rect x="769.2" y="956.9" width="16.4" height="16.4" fill="#1f77b4"/>
<circle cx="166.3" cy="729.4" r="6.1" fill="#000" fill-opacity="0.93"/>
<circle cx="176.6" cy="730" r="6.1" fill="#000" fill-opacity="0.93"/>
<circle cx="184.5" cy="743.1" r="6.1" fill="#000" fill-opacity="0.93"/>
<circle cx="201" cy="787" r="6.1" fill="#000" fill-opacity="0.93"/>
<circle cx="175.6" cy="810.1" r="6.1" fill="#000" fill-opacity="0.93"/>
<circle cx="181.7" cy="818.5" r="6.1" fill="#000" fill-opacity="0.93"/>
<circle cx="197.8" cy="818.9" r="6.1" fill="#000" fill-opacity="0.93"/>
<circle cx="233.4" cy="786.2" r="6.1" fill="#000" fill-opacity="0.93"/>
<circle cx="270.8" cy="775.4" r="6.1" fill="#000" fill-opacity="0.93"/>
<circle cx="283" cy="787.2" r="6.1" fill="#000" fill-opacity="0.93"/>
<circle cx="298.2" cy="777.6" r="6.1" fill="#000" fill-opacity="0.93"/>
<circle cx="313.5" cy="791.9" r="6.1" fill="#000" fill-opacity="0.93"/>
<circle cx="309.8" cy="830.2" r="6.1" fill="#000" fill-opacity="0.93"/>
<circle cx="351.4" cy="848.5" r="6.1" fill="#000" fill-opacity="0.93"/>
<circle cx="374.1" cy="794.1" r="6.1" fill="#000" fill-opacity="0.93"/>
<circle cx="380.7" cy="798.4" r="6.1" fill="#000" fill-opacity="0.93"/>
<circle cx="393.8" cy="831.1" r="6.1" fill="#000" fill-opacity="0.93"/>
<circle cx="439.1" cy="857.6" r="6.1" fill="#000" fill-opacity="0.93"/>
<circle cx="451" cy="823.9" r="6.1" fill="#000" fill-opacity="0.93"/>
<circle cx="457.6" cy="831.4" r="6.1" fill="#000" fill-opacity="0.93"/>
<circle cx="483.5" cy="808.9" r="6.1" fill="#000" fill-opacity="0.93"/>
<circle cx="489.7" cy="802.9" r="6.1" fill="#000" fill-opacity="0.93"/>
<circle cx="488.7" cy="830.4" r="6.1" fill="#000" fill-opacity="0.93"/>
<circle cx="506.5" cy="858.2" r="6.1" fill="#000" fill-opacity="0.93"/>
<circle cx="512.6" cy="857.3" r="6.1" fill="#000" fill-opacity="0.93"/>
<circle cx="541.6" cy="854.4" r="6.1" fill="#000" fill-opacity="0.93"/>
<circle cx="558" cy="851.1" r="6.1" fill="#000" fill-opacity="0.93"/>
<circle cx="564.1" cy="820.1" r="6.1" fill="#000" fill-opacity="0.93"/>
<circle cx="585.8" cy="858.7" r="6.1" fill="#000" fill-opacity="0.93"/>
<circle cx="594.7" cy="878.8" r="6.1" fill="#000" fill-opacity="0.93"/>
<circle cx="597.2" cy="841.6" r="6.1" fill="#000" fill-opacity="0.93"/>
<circle cx="618.6" cy="855.3" r="6.1" fill="#000" fill-opacity="0.93"/>
<circle cx="625.4" cy="892.7" r="6.1" fill="#000" fill-opacity="0.93"/>
<circle cx="659.3" cy="870.5" r="6.1" fill="#000" fill-opacity="0.93"/>
<circle cx="659" cy="870.7" r="6.1" fill="#000" fill-opacity="0.93"/>
<circle cx="669.2" cy="901.8" r="6.1" fill="#000" fill-opacity="0.93"/>
<circle cx="698" cy="911.8" r="6.1" fill="#000" fill-opacity="0.93"/>
<circle cx="712.6" cy="932.8" r="6.1" fill="#000" fill-opacity="0.93"/>
<circle cx="727.2" cy="911.4" r="6.1" fill="#000" fill-opacity="0.93"/>
<circle cx="741.6" cy="888.2" r="6.1" fill="#000" fill-opacity="0.93"/>
<circle cx="749.1" cy="958.1" r="6.1" fill="#000" fill-opacity="0.93"/>
</g>
<g stroke="#000" stroke-width="3.3" fill="none">
<rect x="146.6" y="550.4" width="657.1" height="485.9" stroke-linejoin="miter"/>
</g>
<text x="76.88" y="1049.1" font-family='"Liberation Serif", serif' font-size="36.7" textLength="47.45" lengthAdjust="spacingAndGlyphs">0.0</text>
<text x="76.68" y="955.96" font-family='"Liberation Serif", serif' font-size="36.7" textLength="47.75" lengthAdjust="spacingAndGlyphs">2.5</text>
<text x="76.08" y="861.92" font-family='"Liberation Serif", serif' font-size="36.7" textLength="48.27" lengthAdjust="spacingAndGlyphs">5.0</text>
<text x="75.77" y="768.97" font-family='"Liberation Serif", serif' font-size="36.7" textLength="48.69" lengthAdjust="spacingAndGlyphs">7.5</text>
<text x="58.09" y="675.03" font-family='"Liberation Serif", serif' font-size="36.7" textLength="66.23" lengthAdjust="spacingAndGlyphs">10.0</text>
<text x="58.29" y="580.69" font-family='"Liberation Serif", serif' font-size="36.7" textLength="66.12" lengthAdjust="spacingAndGlyphs">12.5</text>
<text x="113.29" y="1084" font-family='"Liberation Serif", serif' font-size="36.7" textLength="65.82" lengthAdjust="spacingAndGlyphs">0.00</text>
<text x="244.71" y="1084" font-family='"Liberation Serif", serif' font-size="36.7" textLength="65.92" lengthAdjust="spacingAndGlyphs">0.25</text>
<text x="376.13" y="1084" font-family='"Liberation Serif", serif' font-size="36.7" textLength="65.82" lengthAdjust="spacingAndGlyphs">0.50</text>
<text x="507.55" y="1084" font-family='"Liberation Serif", serif' font-size="36.7" textLength="65.92" lengthAdjust="spacingAndGlyphs">0.75</text>
<text x="638.78" y="1084" font-family='"Liberation Serif", serif' font-size="36.7" textLength="66.02" lengthAdjust="spacingAndGlyphs">1.00</text>
<text x="770.19" y="1084" font-family='"Liberation Serif", serif' font-size="36.7" textLength="66.12" lengthAdjust="spacingAndGlyphs">1.25</text>
<text x="448.93" y="1136.2" font-family='"Liberation Sans", sans-serif' font-size="35.4" textLength="13.17" lengthAdjust="spacingAndGlyphs">r</text>
<text x="463.53" y="1142.9" font-family='"DejaVu Sans", sans-serif' font-size="50.5" font-weight="200" textLength="17.37" lengthAdjust="spacingAndGlyphs">/</text>
<text x="482.26" y="1136.2" font-family='"Liberation Sans", sans-serif' font-size="35.4" textLength="16.17" lengthAdjust="spacingAndGlyphs">a</text>
<g transform="translate(33.1 916.8) rotate(-90)">
<text x="-2.26" y="0" font-family='"Liberation Sans", sans-serif' font-size="35.4" textLength="18.54" lengthAdjust="spacingAndGlyphs">n</text>
<text x="18.07" y="6.3" font-family='"Liberation Serif", serif' font-size="30" font-style="italic" textLength="13.83" lengthAdjust="spacingAndGlyphs">e</text>
<text x="49.39" y="1.2" font-family='"Liberation Sans", sans-serif' font-size="43" textLength="9.16" lengthAdjust="spacingAndGlyphs">[</text>
<text x="58.62" y="0" font-family='"Liberation Sans", sans-serif' font-size="35.4" textLength="19.26" lengthAdjust="spacingAndGlyphs">x</text>
<text x="78.08" y="0" font-family='"Liberation Sans", sans-serif' font-size="39.7" textLength="38.84" lengthAdjust="spacingAndGlyphs">10</text>
<text x="117.14" y="-14.5" font-family='"Liberation Serif", serif' font-size="28.5" textLength="31.52" lengthAdjust="spacingAndGlyphs">19</text>
<text x="164.47" y="0" font-family='"Liberation Sans", sans-serif' font-size="35.4" textLength="31.16" lengthAdjust="spacingAndGlyphs">m</text>
<text x="196.34" y="-11.9" font-family='"Liberation Serif", serif' font-size="28.5" textLength="23.33" lengthAdjust="spacingAndGlyphs">−</text>
<text x="220.44" y="-14.5" font-family='"Liberation Serif", serif' font-size="28.5" textLength="15.39" lengthAdjust="spacingAndGlyphs">3</text>
<text x="239.16" y="1.2" font-family='"Liberation Sans", sans-serif' font-size="43" textLength="9.02" lengthAdjust="spacingAndGlyphs">]</text>
</g>
<text x="198.48" y="606.3" font-family='"Liberation Sans", sans-serif' font-size="31.25" textLength="135.16" lengthAdjust="spacingAndGlyphs">20180920</text>
<text x="334.05" y="606.3" font-family='"Liberation Sans", sans-serif' font-size="31.25" textLength="9.11" lengthAdjust="spacingAndGlyphs">.</text>
<text x="342.77" y="606.3" font-family='"Liberation Sans", sans-serif' font-size="31.25" textLength="51.27" lengthAdjust="spacingAndGlyphs">017</text>
<text x="404.77" y="602.7" font-family='"Liberation Sans", sans-serif' font-size="26.5" textLength="22.62" lengthAdjust="spacingAndGlyphs" stroke="#000" stroke-width="0.5">@</text>
<text x="426.86" y="606.3" font-family='"Liberation Sans", sans-serif' font-size="31.25" textLength="57.2" lengthAdjust="spacingAndGlyphs">3.1s</text>
<rect x="531.4" y="568.5" width="254.2" height="110.4" rx="5.5" ry="5.5" fill="#fff" fill-opacity="0.8" stroke="#ccc" stroke-opacity="0.8" stroke-width="1.4"/>
<path d="M543 595.2h77.4" stroke="#1f77b4" stroke-width="5.6" fill="none"/>
<rect x="573.5" y="587" width="16.4" height="16.4" fill="#1f77b4"/>
<g stroke="#000" stroke-opacity="0.9" fill="none"><path stroke-width="5.8" d="M581.5 627.8V663"/><path stroke-width="2.9" d="M575.3 627.8h12.4M575.3 663h12.4"/></g>
<circle cx="581.5" cy="645.4" r="6.1" fill="#000" fill-opacity="0.93"/>
<text x="645.84" y="607.55" font-family='"Liberation Sans", sans-serif' font-size="35.75" textLength="66.96" lengthAdjust="spacingAndGlyphs">BES</text>
<text x="646.31" y="657.8" font-family='"Liberation Sans", sans-serif' font-size="35.75" textLength="44.98" lengthAdjust="spacingAndGlyphs">TS</text>
<text x="689.1" y="661.2" font-family='"DejaVu Sans", sans-serif' font-size="40" font-weight="200" textLength="33.5" lengthAdjust="spacingAndGlyphs">+</text>
<text x="720.27" y="657.8" font-family='"Liberation Sans", sans-serif' font-size="35.75" textLength="51.83" lengthAdjust="spacingAndGlyphs">int.</text>
</g>
<g id="panel4">
<clipPath id="clip4"><rect x="911.9" y="550.4" width="657.1" height="485.9"/></clipPath>
<polygon clip-path="url(#clip4)" fill="#1f77b4" fill-opacity="0.2" points="911.9,545 1069.6,587.8 1174.75,796.7 1279.9,791.1 1437.6,884.4 1542.7,994.2 1542.7,1026.1 1437.6,936.9 1279.9,839.5 1174.75,819.8 1069.6,651.9 911.9,603.2"/>
<g stroke="#adadad" stroke-width="2.4" stroke-dasharray="8.75 3.9" fill="none">
<path d="M1043.32 1036.3V550.4"/>
<path d="M1174.74 1036.3V550.4"/>
<path d="M1306.16 1036.3V550.4"/>
<path d="M1437.58 1036.3V550.4"/>
<path d="M911.9 942.86H1569"/>
<path d="M911.9 849.42H1569"/>
<path d="M911.9 755.97H1569"/>
<path d="M911.9 662.53H1569"/>
<path d="M911.9 569.09H1569"/>
</g>
<g stroke="#000" stroke-width="3.3" fill="none">
<path d="M1043.32 1036.3v-14"/>
<path d="M1174.74 1036.3v-14"/>
<path d="M1306.16 1036.3v-14"/>
<path d="M1437.58 1036.3v-14"/>
<path d="M911.9 942.86h14"/>
<path d="M911.9 849.42h14"/>
<path d="M911.9 755.97h14"/>
<path d="M911.9 662.53h14"/>
<path d="M911.9 569.09h14"/>
</g>
<g clip-path="url(#clip4)">
<g stroke="#000" stroke-opacity="0.9" fill="none">
<path stroke-width="5.8" d="M957 549V566.6"/>
<path stroke-width="2.9" d="M950.8 549h12.4M950.8 566.6h12.4"/>
<path stroke-width="5.8" d="M973.5 571.2V587"/>
<path stroke-width="2.9" d="M967.3 571.2h12.4M967.3 587h12.4"/>
<path stroke-width="5.8" d="M1010.6 562.3V585.1"/>
<path stroke-width="2.9" d="M1004.4 562.3h12.4M1004.4 585.1h12.4"/>
<path stroke-width="5.8" d="M1035 570.9V593.3"/>
<path stroke-width="2.9" d="M1028.8 570.9h12.4M1028.8 593.3h12.4"/>
<path stroke-width="5.8" d="M1050 590.6V612"/>
<path stroke-width="2.9" d="M1043.8 590.6h12.4M1043.8 612h12.4"/>
<path stroke-width="5.8" d="M1048.2 609.6V629.8"/>
<path stroke-width="2.9" d="M1042 609.6h12.4M1042 629.8h12.4"/>
<path stroke-width="5.8" d="M937.3 610.6V631.4"/>
<path stroke-width="2.9" d="M931.1 610.6h12.4M931.1 631.4h12.4"/>
<path stroke-width="5.8" d="M949.5 606.8V628.8"/>
<path stroke-width="2.9" d="M943.3 606.8h12.4M943.3 628.8h12.4"/>
<path stroke-width="5.8" d="M1087.9 718.3V732.7"/>
<path stroke-width="2.9" d="M1081.7 718.3h12.4M1081.7 732.7h12.4"/>
<path stroke-width="5.8" d="M1123.7 711.2V731.4"/>
<path stroke-width="2.9" d="M1117.5 711.2h12.4M1117.5 731.4h12.4"/>
<path stroke-width="5.8" d="M1129.8 707.8V729"/>
<path stroke-width="2.9" d="M1123.6 707.8h12.4M1123.6 729h12.4"/>
<path stroke-width="5.8" d="M1130 789V801"/>
<path stroke-width="2.9" d="M1123.8 789h12.4M1123.8 801h12.4"/>
<path stroke-width="5.8" d="M1173.9 805.1V818.7"/>
<path stroke-width="2.9" d="M1167.7 805.1h12.4M1167.7 818.7h12.4"/>
<path stroke-width="5.8" d="M1197.5 814.4V843.2"/>
<path stroke-width="2.9" d="M1191.3 814.4h12.4M1191.3 843.2h12.4"/>
<path stroke-width="5.8" d="M1203.5 819.2V849.6"/>
<path stroke-width="2.9" d="M1197.3 819.2h12.4M1197.3 849.6h12.4"/>
<path stroke-width="5.8" d="M1219.1 845.5V857.9"/>
<path stroke-width="2.9" d="M1212.9 845.5h12.4M1212.9 857.9h12.4"/>
<path stroke-width="5.8" d="M1229.4 788.9V817.7"/>
<path stroke-width="2.9" d="M1223.2 788.9h12.4M1223.2 817.7h12.4"/>
<path stroke-width="5.8" d="M1234.9 784.3V812.9"/>
<path stroke-width="2.9" d="M1228.7 784.3h12.4M1228.7 812.9h12.4"/>
<path stroke-width="5.8" d="M1251 819.2V849.6"/>
<path stroke-width="2.9" d="M1244.8 819.2h12.4M1244.8 849.6h12.4"/>
<path stroke-width="5.8" d="M1257 827.2V859.2"/>
<path stroke-width="2.9" d="M1250.8 827.2h12.4M1250.8 859.2h12.4"/>
<path stroke-width="5.8" d="M1269.6 823.2V839.6"/>
<path stroke-width="2.9" d="M1263.4 823.2h12.4M1263.4 839.6h12.4"/>
<path stroke-width="5.8" d="M1301.7 839.5V863.3"/>
<path stroke-width="2.9" d="M1295.5 839.5h12.4M1295.5 863.3h12.4"/>
<path stroke-width="5.8" d="M1307.5 812.5V840.1"/>
<path stroke-width="2.9" d="M1301.3 812.5h12.4M1301.3 840.1h12.4"/>
<path stroke-width="5.8" d="M1322.8 842V859.2"/>
<path stroke-width="2.9" d="M1316.6 842h12.4M1316.6 859.2h12.4"/>
<path stroke-width="5.8" d="M1329 843.4V874.6"/>
<path stroke-width="2.9" d="M1322.8 843.4h12.4M1322.8 874.6h12.4"/>
<path stroke-width="5.8" d="M1337.6 860.4V898.8"/>
<path stroke-width="2.9" d="M1331.4 860.4h12.4M1331.4 898.8h12.4"/>
<path stroke-width="5.8" d="M1361 853.5V879.3"/>
<path stroke-width="2.9" d="M1354.8 853.5h12.4M1354.8 879.3h12.4"/>
<path stroke-width="5.8" d="M1368.1 870.7V908.3"/>
<path stroke-width="2.9" d="M1361.9 870.7h12.4M1361.9 908.3h12.4"/>
<path stroke-width="5.8" d="M1377.9 854.9V866.3"/>
<path stroke-width="2.9" d="M1371.7 854.9h12.4M1371.7 866.3h12.4"/>
<path stroke-width="5.8" d="M1402.3 847.3V879.1"/>
<path stroke-width="2.9" d="M1396.1 847.3h12.4M1396.1 879.1h12.4"/>
<path stroke-width="5.8" d="M1411.6 876.5V916.7"/>
<path stroke-width="2.9" d="M1405.4 876.5h12.4M1405.4 916.7h12.4"/>
<path stroke-width="5.8" d="M1432.8 879.8V919"/>
<path stroke-width="2.9" d="M1426.6 879.8h12.4M1426.6 919h12.4"/>
<path stroke-width="5.8" d="M1451 866.2V902.6"/>
<path stroke-width="2.9" d="M1444.8 866.2h12.4M1444.8 902.6h12.4"/>
<path stroke-width="5.8" d="M1451 883.9V900.7"/>
<path stroke-width="2.9" d="M1444.8 883.9h12.4M1444.8 900.7h12.4"/>
<path stroke-width="5.8" d="M1464.7 876.1V918.9"/>
<path stroke-width="2.9" d="M1458.5 876.1h12.4M1458.5 918.9h12.4"/>
<path stroke-width="5.8" d="M1478.8 883.9V919.9"/>
<path stroke-width="2.9" d="M1472.6 883.9h12.4M1472.6 919.9h12.4"/>
<path stroke-width="5.8" d="M1537.9 960V972"/>
<path stroke-width="2.9" d="M1531.7 960h12.4M1531.7 972h12.4"/>
</g>
<polyline fill="none" stroke="#1f77b4" stroke-width="5.6" stroke-linejoin="round" points="911.9,572.8 927.9,573.1 1069.6,620 1174.75,809.1 1279.9,815.5 1437.6,910.3 1542.7,1010.7"/>
<rect x="919.7" y="564.9" width="16.4" height="16.4" fill="#1f77b4"/>
<rect x="1061.4" y="611.8" width="16.4" height="16.4" fill="#1f77b4"/>
<rect x="1166.55" y="800.9" width="16.4" height="16.4" fill="#1f77b4"/>
<rect x="1271.7" y="807.3" width="16.4" height="16.4" fill="#1f77b4"/>
<rect x="1429.4" y="902.1" width="16.4" height="16.4" fill="#1f77b4"/>
<rect x="1534.5" y="1002.5" width="16.4" height="16.4" fill="#1f77b4"/>
<circle cx="957" cy="557.8" r="6.1" fill="#000" fill-opacity="0.93"/>
<circle cx="973.5" cy="579.1" r="6.1" fill="#000" fill-opacity="0.93"/>
<circle cx="1010.6" cy="573.7" r="6.1" fill="#000" fill-opacity="0.93"/>
<circle cx="1035" cy="582.1" r="6.1" fill="#000" fill-opacity="0.93"/>
<circle cx="1050" cy="601.3" r="6.1" fill="#000" fill-opacity="0.93"/>
<circle cx="1048.2" cy="619.7" r="6.1" fill="#000" fill-opacity="0.93"/>
<circle cx="937.3" cy="621" r="6.1" fill="#000" fill-opacity="0.93"/>
<circle cx="949.5" cy="617.8" r="6.1" fill="#000" fill-opacity="0.93"/>
<circle cx="1087.9" cy="725.5" r="6.1" fill="#000" fill-opacity="0.93"/>
<circle cx="1123.7" cy="721.3" r="6.1" fill="#000" fill-opacity="0.93"/>
<circle cx="1129.8" cy="718.4" r="6.1" fill="#000" fill-opacity="0.93"/>
<circle cx="1130" cy="795" r="6.1" fill="#000" fill-opacity="0.93"/>
<circle cx="1173.9" cy="811.9" r="6.1" fill="#000" fill-opacity="0.93"/>
<circle cx="1197.5" cy="828.8" r="6.1" fill="#000" fill-opacity="0.93"/>
<circle cx="1203.5" cy="834.4" r="6.1" fill="#000" fill-opacity="0.93"/>
<circle cx="1219.1" cy="851.7" r="6.1" fill="#000" fill-opacity="0.93"/>
<circle cx="1229.4" cy="803.3" r="6.1" fill="#000" fill-opacity="0.93"/>
<circle cx="1234.9" cy="798.6" r="6.1" fill="#000" fill-opacity="0.93"/>
<circle cx="1251" cy="834.4" r="6.1" fill="#000" fill-opacity="0.93"/>
<circle cx="1257" cy="843.2" r="6.1" fill="#000" fill-opacity="0.93"/>
<circle cx="1269.6" cy="831.4" r="6.1" fill="#000" fill-opacity="0.93"/>
<circle cx="1301.7" cy="851.4" r="6.1" fill="#000" fill-opacity="0.93"/>
<circle cx="1307.5" cy="826.3" r="6.1" fill="#000" fill-opacity="0.93"/>
<circle cx="1322.8" cy="850.6" r="6.1" fill="#000" fill-opacity="0.93"/>
<circle cx="1329" cy="859" r="6.1" fill="#000" fill-opacity="0.93"/>
<circle cx="1337.6" cy="879.6" r="6.1" fill="#000" fill-opacity="0.93"/>
<circle cx="1361" cy="866.4" r="6.1" fill="#000" fill-opacity="0.93"/>
<circle cx="1368.1" cy="889.5" r="6.1" fill="#000" fill-opacity="0.93"/>
<circle cx="1377.9" cy="860.6" r="6.1" fill="#000" fill-opacity="0.93"/>
<circle cx="1402.3" cy="863.2" r="6.1" fill="#000" fill-opacity="0.93"/>
<circle cx="1411.6" cy="896.6" r="6.1" fill="#000" fill-opacity="0.93"/>
<circle cx="1432.8" cy="899.4" r="6.1" fill="#000" fill-opacity="0.93"/>
<circle cx="1451" cy="884.4" r="6.1" fill="#000" fill-opacity="0.93"/>
<circle cx="1451" cy="892.3" r="6.1" fill="#000" fill-opacity="0.93"/>
<circle cx="1464.7" cy="897.5" r="6.1" fill="#000" fill-opacity="0.93"/>
<circle cx="1478.8" cy="901.9" r="6.1" fill="#000" fill-opacity="0.93"/>
<circle cx="1537.9" cy="966" r="6.1" fill="#000" fill-opacity="0.93"/>
</g>
<g stroke="#000" stroke-width="3.3" fill="none">
<rect x="911.9" y="550.4" width="657.1" height="485.9" stroke-linejoin="miter"/>
</g>
<text x="878.59" y="1084" font-family='"Liberation Serif", serif' font-size="36.7" textLength="65.82" lengthAdjust="spacingAndGlyphs">0.00</text>
<text x="1010.01" y="1084" font-family='"Liberation Serif", serif' font-size="36.7" textLength="65.92" lengthAdjust="spacingAndGlyphs">0.25</text>
<text x="1141.43" y="1084" font-family='"Liberation Serif", serif' font-size="36.7" textLength="65.82" lengthAdjust="spacingAndGlyphs">0.50</text>
<text x="1272.85" y="1084" font-family='"Liberation Serif", serif' font-size="36.7" textLength="65.92" lengthAdjust="spacingAndGlyphs">0.75</text>
<text x="1404.08" y="1084" font-family='"Liberation Serif", serif' font-size="36.7" textLength="66.02" lengthAdjust="spacingAndGlyphs">1.00</text>
<text x="1535.49" y="1084" font-family='"Liberation Serif", serif' font-size="36.7" textLength="66.12" lengthAdjust="spacingAndGlyphs">1.25</text>
<text x="1214.23" y="1136.2" font-family='"Liberation Sans", sans-serif' font-size="35.4" textLength="13.17" lengthAdjust="spacingAndGlyphs">r</text>
<text x="1228.83" y="1142.9" font-family='"DejaVu Sans", sans-serif' font-size="50.5" font-weight="200" textLength="17.37" lengthAdjust="spacingAndGlyphs">/</text>
<text x="1247.56" y="1136.2" font-family='"Liberation Sans", sans-serif' font-size="35.4" textLength="16.17" lengthAdjust="spacingAndGlyphs">a</text>
<text x="964.48" y="1018" font-family='"Liberation Sans", sans-serif' font-size="31.25" textLength="135.4" lengthAdjust="spacingAndGlyphs">20181009</text>
<text x="1100.05" y="1018" font-family='"Liberation Sans", sans-serif' font-size="31.25" textLength="9.11" lengthAdjust="spacingAndGlyphs">.</text>
<text x="1108.79" y="1018" font-family='"Liberation Sans", sans-serif' font-size="31.25" textLength="50.55" lengthAdjust="spacingAndGlyphs">034</text>
<text x="1170.77" y="1014.4" font-family='"Liberation Sans", sans-serif' font-size="26.5" textLength="22.62" lengthAdjust="spacingAndGlyphs" stroke="#000" stroke-width="0.5">@</text>
<text x="1192.86" y="1018" font-family='"Liberation Sans", sans-serif' font-size="31.25" textLength="57.2" lengthAdjust="spacingAndGlyphs">3.0s</text>
<rect x="1297.6" y="568.5" width="254.2" height="110.4" rx="5.5" ry="5.5" fill="#fff" fill-opacity="0.8" stroke="#ccc" stroke-opacity="0.8" stroke-width="1.4"/>
<path d="M1309.2 595.2h77.4" stroke="#1f77b4" stroke-width="5.6" fill="none"/>
<rect x="1339.7" y="587" width="16.4" height="16.4" fill="#1f77b4"/>
<g stroke="#000" stroke-opacity="0.9" fill="none"><path stroke-width="5.8" d="M1347.7 627.8V663"/><path stroke-width="2.9" d="M1341.5 627.8h12.4M1341.5 663h12.4"/></g>
<circle cx="1347.7" cy="645.4" r="6.1" fill="#000" fill-opacity="0.93"/>
<text x="1412.04" y="607.55" font-family='"Liberation Sans", sans-serif' font-size="35.75" textLength="66.96" lengthAdjust="spacingAndGlyphs">BES</text>
<text x="1412.51" y="657.8" font-family='"Liberation Sans", sans-serif' font-size="35.75" textLength="44.98" lengthAdjust="spacingAndGlyphs">TS</text>
<text x="1455.3" y="661.2" font-family='"DejaVu Sans", sans-serif' font-size="40" font-weight="200" textLength="33.5" lengthAdjust="spacingAndGlyphs">+</text>
<text x="1486.47" y="657.8" font-family='"Liberation Sans", sans-serif' font-size="35.75" textLength="51.83" lengthAdjust="spacingAndGlyphs">int.</text>
</g>
</svg></body></html>
